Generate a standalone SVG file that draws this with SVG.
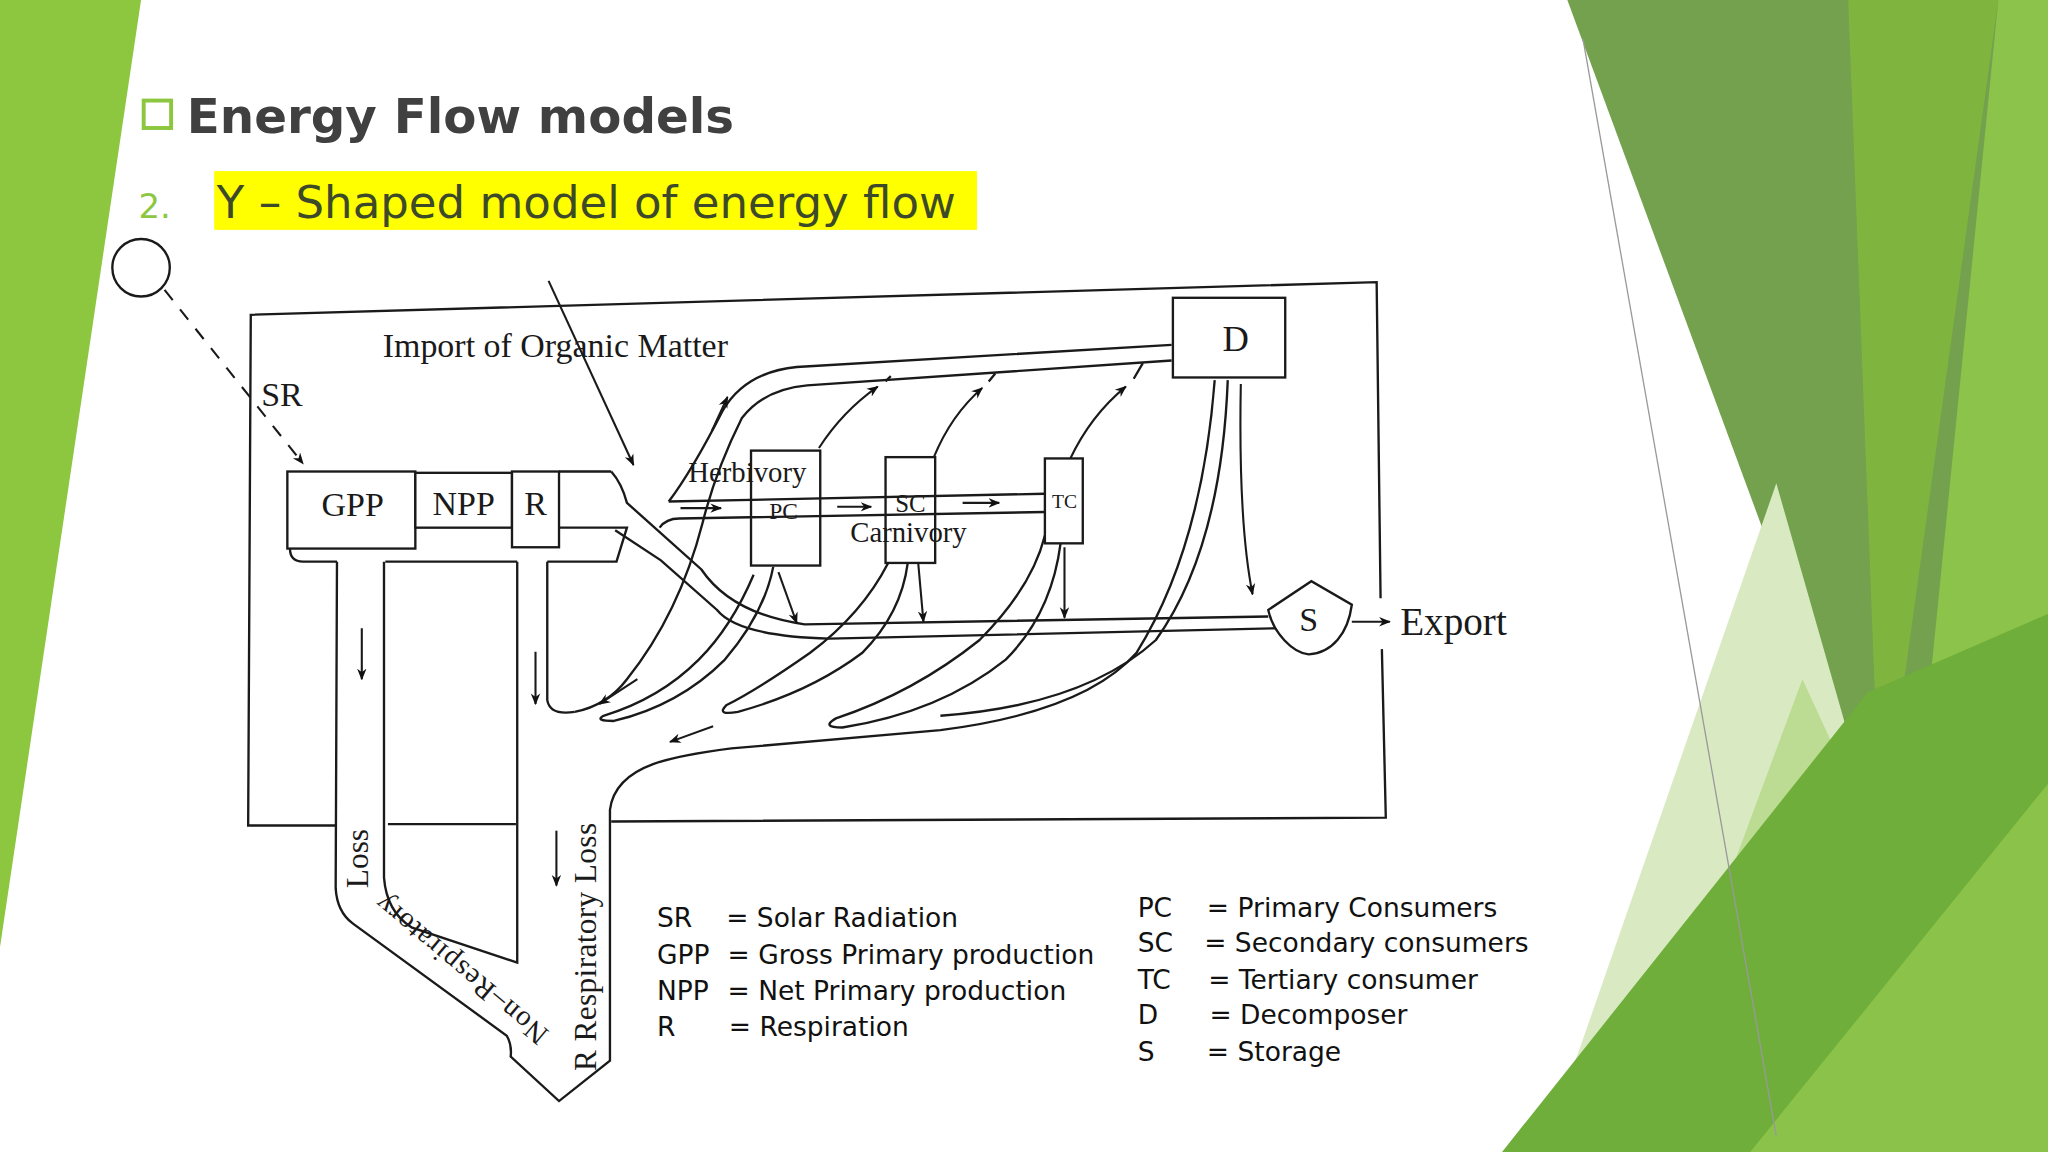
<svg xmlns="http://www.w3.org/2000/svg" width="2048" height="1152" viewBox="0 0 2048 1152">
<defs>
<marker id="ah" viewBox="0 0 10 10" refX="9" refY="5" markerWidth="9" markerHeight="9" markerUnits="userSpaceOnUse" orient="auto"><path d="M0,1 L10,5 L0,9 L3,5 Z" fill="#111"/></marker>
<style>
.ln{fill:none;stroke:#1a1a1a;stroke-width:1.8}
.bx{fill:#fff;stroke:#1a1a1a;stroke-width:1.8}
.ar{fill:none;stroke:#1a1a1a;stroke-width:1.6;marker-end:url(#ah)}
.tm{font-family:"Liberation Serif",serif;fill:#1a1a1a}
.lg{font-family:"DejaVu Sans","Noto Sans",sans-serif;font-size:20.3px;fill:#111}
</style>
</defs>
<rect width="2048" height="1152" fill="#fff"/>
<g transform="scale(1.30612)">
<g id="decor">
<polygon points="0,0 108,0 0,725" fill="#8dc63f"/>
<polygon points="1200,0 1568,0 1568,600 1440,650" fill="#73a14e"/>
<polygon points="1415,0 1530,0 1440,650" fill="#7fb53f"/>
<polygon points="1530,0 1568,0 1568,500 1470,600" fill="#8cc34a"/>
<polygon points="1200,830 1360,370 1440,650" fill="#d9eac3"/>
<polygon points="1250,870 1380,520 1440,650" fill="#bcdb93"/>
<polygon points="1150,882 1430,530 1568,470 1568,882" fill="#6fae3a"/>
<polygon points="1340,882 1568,600 1568,882" fill="#8bc34a"/>
<line x1="1212" y1="30" x2="1360" y2="870" stroke="#999" stroke-width="1"/>
</g>
<g id="title">
<rect x="110" y="77" width="21" height="21" fill="none" stroke="#8dc63f" stroke-width="3"/>
<text x="143" y="102" font-family="DejaVu Sans,sans-serif" font-weight="bold" font-size="37" fill="#404040">Energy Flow models</text>
<text x="106" y="167" font-family="DejaVu Sans,sans-serif" font-size="26" fill="#8dc63f">2.</text>
<rect x="164" y="131" width="584" height="45" fill="#ffff00"/>
<text x="166" y="167" font-family="DejaVu Sans,sans-serif" font-size="34.5" fill="#3d4a2a">Y – Shaped model of energy flow</text>
</g>
<g id="connectors">
<path class="ln" d="M258,632 L190,632 L192,241 L1054,216 L1057,458 M1058,497 L1061,626 L468,629 M297,631 L395,631"/>
<circle cx="108" cy="205" r="22" class="ln"/>
<path class="ar" d="M126,222 L232,355" stroke-dasharray="10,9"/>
<path class="ar" d="M420,215 L485,356"/>
<path class="ln" d="M222,420 Q222,430 232,430 L258,430 M295,430 L396,430 M419,430 L472,430 L480,404 L428,404 M428,361 L468,361"/>
<path class="ln" d="M258,430 L257,680 Q258,698 270,707 L388,793 Q392,800 391,809 L428,843 L467,812 L467,620 Q470,596 500,585 Q520,578 560,573 L720,559 Q830,545 870,500 Q920,420 930,291"/>
<path class="ln" d="M294,430 L294,672 Q296,698 315,710 L396,737 L396,430"/>
<path class="ln" d="M419,430 L419,536 Q421,548 440,545"/>
<path class="ln" d="M468,361 Q476,370 480,385 L537,436 Q560,470 616,478 L971,472"/>
<path class="ln" d="M471,406 L506,429 L549,467 Q565,487 635,489 L979,481"/>
<path class="ln" d="M512,384 L800,378"/>
<path class="ln" d="M505,404 Q510,397 520,397 L800,392"/>
<path class="ln" d="M897,264 L610,281 Q570,285 553,315 Q530,360 512,384"/>
<path class="ln" d="M897,276 L618,295 Q585,298 568,320 Q548,360 538,400 Q520,470 480,520 Q465,540 440,545"/>
<path class="ar" d="M545,330 L557,304"/>
<path class="ln" d="M577,440 Q560,480 535,505 Q505,535 462,548 Q455,552 470,552 Q520,540 555,505 Q585,470 592,434"/>
<path class="ln" d="M680,431 Q660,470 620,500 Q580,528 556,540 Q548,548 565,545 Q620,530 660,500 Q690,470 695,431"/>
<path class="ln" d="M800,410 Q790,450 750,490 Q700,530 640,550 Q628,557 645,557 Q720,545 770,505 Q805,470 812,416"/>
<path class="ln" d="M940,291 Q935,420 885,490 Q830,540 720,548"/>
<path class="ar" d="M627,343 Q645,315 672,296"/>
<path class="ar" d="M715,350 Q728,318 752,297"/>
<path class="ar" d="M819,352 Q835,318 862,296"/>
<path class="ln" d="M678,292 L682,288 M757,292 L762,286 M868,290 L875,278"/>
<path class="ar" d="M596,438 L610,477"/>
<path class="ar" d="M703,431 L707,476"/>
<path class="ar" d="M815,419 L815,473"/>
<path class="ar" d="M950,294 Q948,400 959,455"/>
<path class="ar" d="M277,481 L277,520"/>
<path class="ar" d="M410,499 L410,539"/>
<path class="ar" d="M426,636 L426,678"/>
<path class="ar" d="M546,556 L513,568"/>
<path class="ar" d="M488,520 L459,539"/>
<path class="ar" d="M521,389 L552,389"/>
<path class="ar" d="M641,388 L667,388"/>
<path class="ar" d="M737,385 L765,385"/>
<path class="ar" d="M1035,476 L1064,476"/>
</g>
<g id="GPP"><rect class="bx" x="220" y="361" width="98" height="59"/><text class="tm" x="270" y="395" font-size="26" text-anchor="middle">GPP</text></g>
<g id="NPP"><rect class="bx" x="318" y="362" width="74" height="42"/><text class="tm" x="355" y="394" font-size="26" text-anchor="middle">NPP</text></g>
<g id="R"><rect class="bx" x="392" y="361" width="36" height="58"/><text class="tm" x="410" y="394" font-size="26" text-anchor="middle">R</text></g>
<g id="PC"><rect x="575" y="345" width="53" height="88" fill="none" stroke="#1a1a1a" stroke-width="1.8"/><text class="tm" x="600" y="397" font-size="18" text-anchor="middle">PC</text></g>
<g id="SC"><rect x="678" y="350" width="38" height="81" fill="none" stroke="#1a1a1a" stroke-width="1.8"/><text class="tm" x="697" y="392" font-size="19" text-anchor="middle">SC</text></g>
<g id="TC"><rect class="bx" x="800" y="351" width="29" height="65"/><text class="tm" x="815" y="389" font-size="15" text-anchor="middle">TC</text></g>
<g id="D"><rect class="bx" x="898" y="228" width="86" height="61"/><text class="tm" x="946" y="269" font-size="28" text-anchor="middle">D</text></g>
<g id="S"><path class="bx" d="M971,467 L1004,445 L1035,463 C1032,485 1020,500 1002,501 C990,500 975,485 971,467 Z"/><text class="tm" x="1002" y="483" font-size="26" text-anchor="middle">S</text></g>
<g id="labels">
<text class="tm" x="200" y="311" font-size="26">SR</text>
<text class="tm" x="293" y="273" font-size="26">Import of Organic Matter</text>
<text class="tm" x="527" y="369" font-size="22">Herbivory</text>
<text class="tm" x="651" y="415" font-size="22">Carnivory</text>
<text class="tm" x="1072" y="486" font-size="30">Export</text>
<text class="tm" font-size="24" transform="translate(282,680) rotate(-90)">Loss</text>
<text class="tm" font-size="24" transform="translate(456,820) rotate(-90)" textLength="190">R Respiratory Loss</text>
<text class="tm" font-size="22" transform="translate(421,790) rotate(220)" textLength="165">Non–Respiratory</text>
</g>
<g id="legend" class="lg">
<text x="503" y="710">SR</text><text x="556" y="710">= Solar Radiation</text>
<text x="503" y="738">GPP</text><text x="557" y="738">= Gross Primary production</text>
<text x="503" y="766">NPP</text><text x="557" y="766">= Net Primary production</text>
<text x="503" y="793">R</text><text x="558" y="793">= Respiration</text>
<text x="871" y="702">PC</text><text x="924" y="702">= Primary Consumers</text>
<text x="871" y="729">SC</text><text x="922" y="729">= Secondary consumers</text>
<text x="871" y="757">TC</text><text x="925" y="757">= Tertiary consumer</text>
<text x="871" y="784">D</text><text x="926" y="784">= Decomposer</text>
<text x="871" y="812">S</text><text x="924" y="812">= Storage</text>
</g>
</g>
</svg>
